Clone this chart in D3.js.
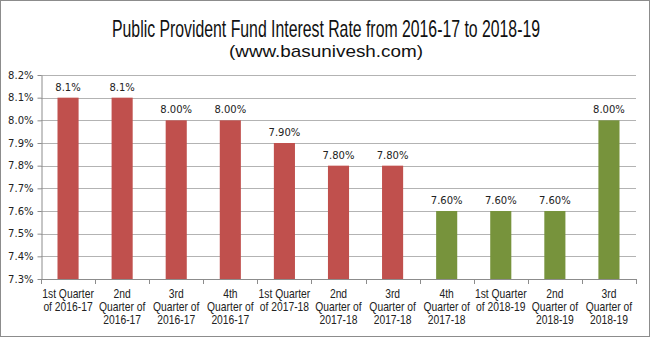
<!DOCTYPE html>
<html>
<head>
<meta charset="utf-8">
<script src="https://cdn.jsdelivr.net/npm/d3@7"></script>
<style>
  body { margin: 0; background: #fff; }
  svg { display: block; }
</style>
</head>
<body>
<div id="chart"></div>
<script>
// --- data ---
const quarters = [
  ["1st Quarter", "of 2016-17"],
  ["2nd", "Quarter of", "2016-17"],
  ["3rd", "Quarter of", "2016-17"],
  ["4th", "Quarter of", "2016-17"],
  ["1st Quarter", "of 2017-18"],
  ["2nd", "Quarter of", "2017-18"],
  ["3rd", "Quarter of", "2017-18"],
  ["4th", "Quarter of", "2017-18"],
  ["1st Quarter", "of 2018-19"],
  ["2nd", "Quarter of", "2018-19"],
  ["3rd", "Quarter of", "2018-19"]
];
const rates = [8.1, 8.1, 8.0, 8.0, 7.9, 7.8, 7.8, 7.6, 7.6, 7.6, 8.0];
const rateLabels = ["8.1%", "8.1%", "8.00%", "8.00%", "7.90%", "7.80%", "7.80%", "7.60%", "7.60%", "7.60%", "8.00%"];
const barColors = ["#C0504D", "#C0504D", "#C0504D", "#C0504D", "#C0504D", "#C0504D", "#C0504D", "#77933C", "#77933C", "#77933C", "#77933C"];
const yTicks = [7.3, 7.4, 7.5, 7.6, 7.7, 7.8, 7.9, 8.0, 8.1, 8.2];

const width = 650, height = 337;
const plot = { left: 41, right: 636, top: 75, bottom: 279 };

const svg = d3.select("#chart").append("svg")
  .attr("width", width)
  .attr("height", height);

// outer frame
svg.append("rect")
  .attr("x", 0.5).attr("y", 0.5)
  .attr("width", width - 1).attr("height", height - 1)
  .attr("fill", "#fff").attr("stroke", "#8c8c8c");

// titles (the original uses a very condensed face, so squeeze it to width)
svg.append("text")
  .attr("x", 326).attr("y", 37)
  .attr("text-anchor", "middle")
  .attr("textLength", 428)
  .attr("lengthAdjust", "spacingAndGlyphs")
  .style("font-family", "'Liberation Sans', sans-serif")
  .style("font-size", "24px")
  .style("fill", "#111")
  .text("Public Provident Fund Interest Rate from 2016-17 to 2018-19");
svg.append("text")
  .attr("x", 326).attr("y", 57)
  .attr("text-anchor", "middle")
  .attr("textLength", 194)
  .attr("lengthAdjust", "spacingAndGlyphs")
  .style("font-family", "'Liberation Sans', Arial, sans-serif")
  .style("font-size", "17px")
  .style("fill", "#111")
  .text("(www.basunivesh.com)");

// scales
const x = d3.scaleBand()
  .domain(d3.range(rates.length))
  .range([plot.left, plot.right])
  .paddingInner(0.61)
  .paddingOuter(0.305);
const y = d3.scaleLinear()
  .domain([7.3, 8.2])
  .range([plot.bottom, plot.top]);

// gridlines
svg.append("g")
  .selectAll("line")
  .data(yTicks.slice(1))
  .join("line")
  .attr("x1", plot.left).attr("x2", plot.right)
  .attr("y1", d => Math.round(y(d)) + 0.5).attr("y2", d => Math.round(y(d)) + 0.5)
  .attr("stroke", "#b3b3b3");

// y axis
const yAxis = svg.append("g")
  .attr("transform", `translate(${plot.left + 0.5},0)`)
  .call(d3.axisLeft(y).tickValues(yTicks).tickFormat(d => d.toFixed(1) + "%").tickSize(4).tickSizeOuter(0));
yAxis.select(".domain").attr("stroke", "#8c8c8c");
yAxis.selectAll(".tick line").attr("stroke", "#8c8c8c");
yAxis.selectAll("text")
  .attr("x", -8)
  .style("font-family", "'DejaVu Sans', sans-serif")
  .style("font-size", "10px")
  .style("fill", "#222");

// bars
svg.append("g")
  .selectAll("rect")
  .data(rates)
  .join("rect")
  .attr("x", (d, i) => x(i))
  .attr("width", x.bandwidth())
  .attr("y", d => y(d))
  .attr("height", d => y(7.3) - y(d))
  .attr("fill", (d, i) => barColors[i]);

// value labels
svg.append("g")
  .selectAll("text")
  .data(rates)
  .join("text")
  .attr("x", (d, i) => x(i) + x.bandwidth() / 2)
  .attr("y", d => y(d) - 7)
  .attr("text-anchor", "middle")
  .style("font-family", "'DejaVu Sans', sans-serif")
  .style("font-size", "10px")
  .style("fill", "#222")
  .text((d, i) => rateLabels[i]);

// x axis line + ticks at category boundaries
const step = x.step();
svg.append("line")
  .attr("x1", plot.left).attr("x2", plot.right)
  .attr("y1", plot.bottom + 0.5).attr("y2", plot.bottom + 0.5)
  .attr("stroke", "#8c8c8c");
svg.append("g")
  .selectAll("line")
  .data(d3.range(rates.length + 1))
  .join("line")
  .attr("x1", i => Math.round(plot.left + i * step) + 0.5)
  .attr("x2", i => Math.round(plot.left + i * step) + 0.5)
  .attr("y1", plot.bottom).attr("y2", plot.bottom + 5)
  .attr("stroke", "#8c8c8c");

// x labels (narrow like Calibri: squeeze a bit horizontally)
const xl = svg.append("g")
  .selectAll("text")
  .data(quarters)
  .join("text")
  .attr("transform", (d, i) => `translate(${x(i) + x.bandwidth() / 2},298) scale(0.86,1)`)
  .attr("text-anchor", "middle")
  .style("font-family", "'Liberation Sans', sans-serif")
  .style("font-size", "12px")
  .style("fill", "#222");
xl.selectAll("tspan")
  .data(d => d)
  .join("tspan")
  .attr("x", 0)
  .attr("dy", (d, i) => i === 0 ? 0 : 13)
  .text(d => d);
</script>
</body>
</html>
